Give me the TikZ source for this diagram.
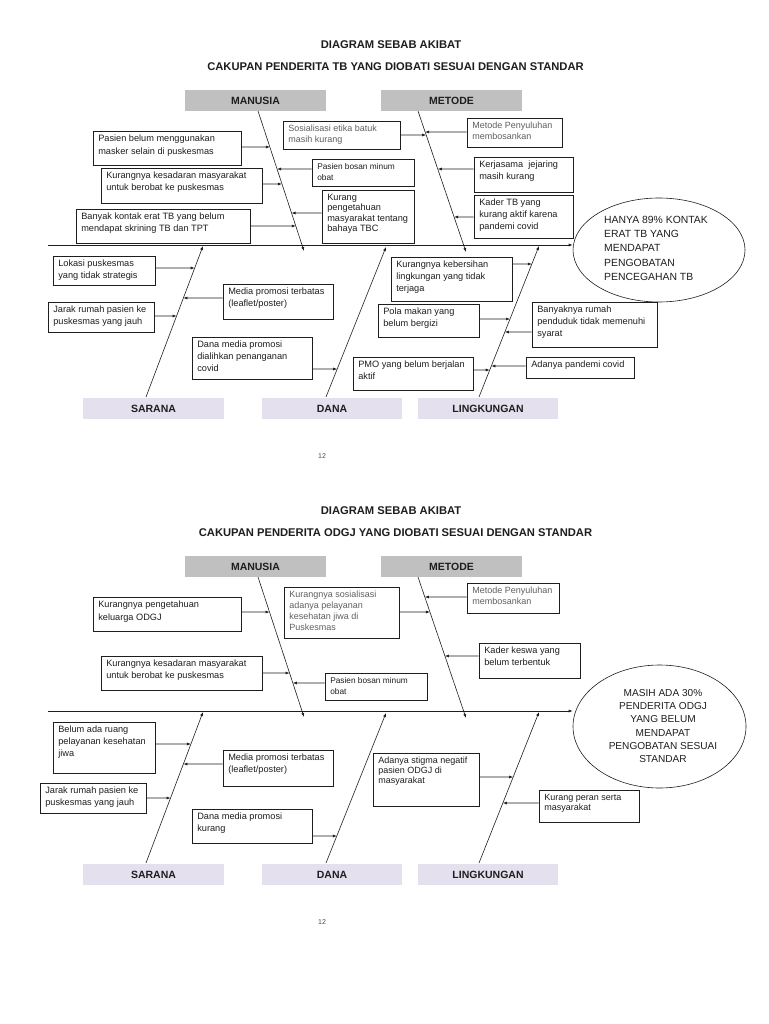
\documentclass[tikz,border=0pt]{standalone}
\usepackage{fontspec}
\setmainfont{Liberation Sans}
\usetikzlibrary{arrows.meta,fit,calc,shapes.geometric}
\definecolor{catgray}{RGB}{192,192,192}
\definecolor{catlav}{RGB}{229,224,237}
\definecolor{txtgray}{RGB}{95,95,95}
\definecolor{ink}{RGB}{30,30,30}

\newcommand{\cb}[7]{%
  \node[cbox, fit={(#2,#3) (#4,#5)}] (#1) {};
  \node[ctxt, #6] (#1t) at ($(#1.north west)+(5.5,4.5)$) {#7};
}
\newcommand{\ha}[5]{%
  \coordinate (hy) at (0,#3);
  \coordinate (hs) at (#1.#2 |- hy);
  \draw[arr] (hs) -- (intersection of #4--#5 and hs--hy);
}
\newcommand{\skel}[2]{%
  \node[ttl] (#1T1) at (391,45) {DIAGRAM SEBAB AKIBAT};
  \node[ttl] (#1T2) at (395.5,67) {#2};
  \node[catg, fit={(185,90) (326,111)}] (#1CM) {};
  \node[catl] at (#1CM.center) {MANUSIA};
  \node[catg, fit={(381,90) (522,111)}] (#1CT) {};
  \node[catl] at (#1CT.center) {METODE};
  \node[catv, fit={(83,398) (224,419)}] (#1CS) {};
  \node[catl] at (#1CS.center) {SARANA};
  \node[catv, fit={(262,398) (402,419)}] (#1CD) {};
  \node[catl] at (#1CD.center) {DANA};
  \node[catv, fit={(418,398) (558,419)}] (#1CL) {};
  \node[catl] at (#1CL.center) {LINGKUNGAN};
  \coordinate (#1Ma) at (258,111); \coordinate (#1Mb) at (304,251);
  \coordinate (#1Ta) at (418,111); \coordinate (#1Tb) at (466,252);
  \coordinate (#1Sa) at (146,397); \coordinate (#1Sb) at (203,246);
  \coordinate (#1Da) at (326,397); \coordinate (#1Db) at (386,247);
  \coordinate (#1La) at (479,397); \coordinate (#1Lb) at (539,246);
  \draw[arr] (#1Ma) -- (#1Mb);
  \draw[arr] (#1Ta) -- (#1Tb);
  \draw[arr] (#1Sa) -- (#1Sb);
  \draw[arr] (#1Da) -- (#1Db);
  \draw[arr] (#1La) -- (#1Lb);
  \node[pg] (#1P) at (322,456) {12};
}

\begin{document}
\begin{tikzpicture}[x=1pt,y=-1pt,
  cbox/.style={draw=ink, line width=0.8pt, inner sep=0pt},
  ctxt/.style={anchor=north west, inner sep=0pt, align=left, text=ink,
    font=\fontsize{9.2}{12}\selectfont},
  gry/.style={text=txtgray, font=\fontsize{9}{11}\selectfont},
  tiny/.style={font=\fontsize{8.3}{11}\selectfont},
  tight/.style={font=\fontsize{9.2}{10.3}\selectfont},
  tightb/.style={font=\fontsize{9}{10}\selectfont},
  sp13/.style={font=\fontsize{9.2}{13}\selectfont},
  arr/.style={draw=ink, line width=0.6pt, -{Latex[length=4pt,width=3pt]}},
  ttl/.style={inner sep=0pt, text=ink, font=\fontsize{11.2}{13}\selectfont\bfseries},
  catg/.style={fill=catgray, inner sep=0pt},
  catv/.style={fill=catlav, inner sep=0pt},
  catl/.style={inner sep=0pt, text=ink, font=\fontsize{10.5}{12}\selectfont\bfseries},
  pg/.style={inner sep=0pt, text=black!70, font=\fontsize{7}{8}\selectfont},
  ell/.style={draw=ink, line width=0.6pt, ellipse, inner sep=0pt}
]
\path[use as bounding box, fill=white] (0,0) rectangle (768,1024);

% ================= TOP DIAGRAM =================
\skel{t}{CAKUPAN PENDERITA TB YANG DIOBATI SESUAI DENGAN STANDAR}
\node[ell, minimum width=172, minimum height=104] (tE) at (659,250) {};
\node[anchor=north west, inner sep=0pt, align=left, text=ink,
  font=\fontsize{10.4}{14.2}\selectfont] (tEt) at (604,216)
  {HANYA 89\% KONTAK\\ERAT TB YANG\\MENDAPAT\\PENGOBATAN\\PENCEGAHAN TB};
\coordinate (tS0) at (48,245);
\draw[arr] (tS0) -- (tS0 -| tE.west);

\cb{t1}{93}{131}{241}{165}{sp13}{Pasien belum menggunakan\\masker selain di puskesmas}
\ha{t1}{east}{147}{tMa}{tMb}
\cb{t2}{101}{168}{262}{203}{}{Kurangnya kesadaran masyarakat\\untuk berobat ke puskesmas}
\ha{t2}{east}{184}{tMa}{tMb}
\cb{t3}{76}{209}{250}{243}{}{Banyak kontak erat TB yang belum\\mendapat skrining TB dan TPT}
\ha{t3}{east}{226}{tMa}{tMb}
\cb{t4}{283}{121}{400}{149}{gry}{Sosialisasi etika batuk\\masih kurang}
\ha{t4}{east}{135}{tTa}{tTb}
\cb{t5}{467}{118}{562}{147}{gry}{Metode Penyuluhan\\membosankan}
\ha{t5}{west}{132}{tTa}{tTb}
\cb{t6}{312}{159}{414}{186}{tiny}{Pasien bosan minum\\obat}
\ha{t6}{west}{169}{tMa}{tMb}
\cb{t7}{322}{190}{414}{243}{tight}{Kurang\\pengetahuan\\masyarakat tentang\\bahaya TBC}
\ha{t7}{west}{213}{tMa}{tMb}
\cb{t8}{474}{157}{573}{192}{}{Kerjasama\ \ jejaring\\masih kurang}
\ha{t8}{west}{169}{tTa}{tTb}
\cb{t9}{474}{195}{573}{238}{}{Kader TB yang\\kurang aktif karena\\pandemi covid}
\ha{t9}{west}{217}{tTa}{tTb}
\cb{t10}{53}{256}{155}{285}{}{Lokasi puskesmas\\yang tidak strategis}
\ha{t10}{east}{268}{tSa}{tSb}
\cb{t11}{48}{302}{154}{332}{}{Jarak rumah pasien ke\\puskesmas yang jauh}
\ha{t11}{east}{316}{tSa}{tSb}
\cb{t12}{223}{284}{333}{319}{}{Media promosi terbatas\\(leaflet/poster)}
\ha{t12}{west}{298}{tSa}{tSb}
\cb{t13}{192}{337}{312}{379}{}{Dana media promosi\\dialihkan penanganan\\covid}
\ha{t13}{east}{369}{tDa}{tDb}
\cb{t14}{391}{257}{512}{301}{}{Kurangnya kebersihan\\lingkungan yang tidak\\terjaga}
\ha{t14}{east}{264}{tLa}{tLb}
\cb{t15}{378}{304}{479}{337}{}{Pola makan yang\\belum bergizi}
\ha{t15}{east}{319}{tLa}{tLb}
\cb{t16}{532}{302}{657}{347}{}{Banyaknya rumah\\penduduk tidak memenuhi\\syarat}
\ha{t16}{west}{332}{tLa}{tLb}
\cb{t17}{353}{357}{473}{390}{}{PMO yang belum berjalan\\aktif}
\ha{t17}{east}{370}{tLa}{tLb}
\cb{t18}{526}{357}{634}{378}{}{Adanya pandemi covid}
\ha{t18}{west}{366}{tLa}{tLb}

% ================= BOTTOM DIAGRAM =================
\begin{scope}[shift={(0,466)}]
\skel{b}{CAKUPAN PENDERITA ODGJ YANG DIOBATI SESUAI DENGAN STANDAR}
\node[ell, minimum width=173, minimum height=123] (bE) at (659.5,260.5) {};
\node[inner sep=0pt, align=center, text=ink,
  font=\fontsize{10.1}{13.2}\selectfont] (bEt) at (663,260)
  {MASIH ADA 30\%\\PENDERITA ODGJ\\YANG BELUM\\MENDAPAT\\PENGOBATAN SESUAI\\STANDAR};
\coordinate (bS0) at (48,245);
\draw[arr] (bS0) -- (bS0 -| bE.west);

\cb{b1}{93}{131}{241}{165}{sp13}{Kurangnya pengetahuan\\keluarga ODGJ}
\ha{b1}{east}{146}{bMa}{bMb}
\cb{b2}{101}{190}{262}{224}{}{Kurangnya kesadaran masyarakat\\untuk berobat ke puskesmas}
\ha{b2}{east}{207}{bMa}{bMb}
\cb{b3}{284}{121}{399}{172}{gry}{Kurangnya sosialisasi\\adanya pelayanan\\kesehatan jiwa di\\Puskesmas}
\ha{b3}{east}{146}{bTa}{bTb}
\cb{b4}{467}{117}{559}{147}{gry}{Metode Penyuluhan\\membosankan}
\ha{b4}{west}{131}{bTa}{bTb}
\cb{b5}{479}{177}{580}{212}{}{Kader keswa yang\\belum terbentuk}
\ha{b5}{west}{190}{bTa}{bTb}
\cb{b6}{325}{207}{427}{234}{tiny}{Pasien bosan minum\\obat}
\ha{b6}{west}{217}{bMa}{bMb}
\cb{b7}{53}{256}{155}{307}{}{Belum ada ruang\\pelayanan kesehatan\\jiwa}
\ha{b7}{east}{278}{bSa}{bSb}
\cb{b8}{223}{284}{333}{320}{}{Media promosi terbatas\\(leaflet/poster)}
\ha{b8}{west}{298}{bSa}{bSb}
\cb{b9}{40}{317}{146}{347}{}{Jarak rumah pasien ke\\puskesmas yang jauh}
\ha{b9}{east}{332}{bSa}{bSb}
\cb{b10}{192}{343}{312}{377}{}{Dana media promosi\\kurang}
\ha{b10}{east}{370}{bDa}{bDb}
\cb{b11}{373}{287}{479}{340}{tightb}{Adanya stigma negatif\\pasien ODGJ di\\masyarakat}
\ha{b11}{east}{311}{bLa}{bLb}
\cb{b12}{539}{324}{639}{356}{tightb}{Kurang peran serta\\masyarakat}
\ha{b12}{west}{337}{bLa}{bLb}
\end{scope}
\end{tikzpicture}
\end{document}
